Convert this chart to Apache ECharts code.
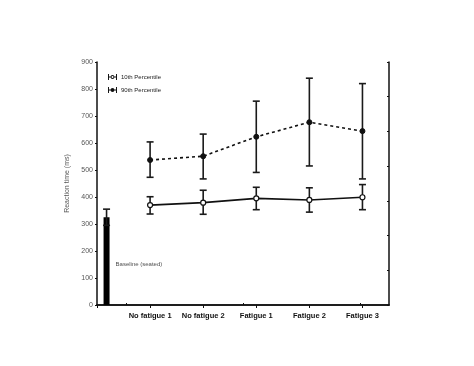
<!DOCTYPE html>
<html><head><meta charset="utf-8">
<script src="https://cdn.jsdelivr.net/npm/echarts@6/dist/echarts.min.js"></script>
<style>html,body{margin:0;padding:0;background:#fff}#c{width:474px;height:366px}</style>
</head><body><div id="c"></div>
<script>
const categories = ['No fatigue 1','No fatigue 2','Fatigue 1','Fatigue 2','Fatigue 3'];
const p90Mean = [537, 551, 623, 677, 644];
const p90Low  = [473, 467, 491, 515, 467];
const p90High = [604, 633, 755, 840, 820];
const p10Mean = [370, 379, 395, 389, 399];
const p10Low  = [337, 336, 353, 344, 353];
const p10High = [401, 425, 436, 434, 446];
const baselineLabel = 'Baseline (seated)';
const baselineMean = 325;
const baselineLow = 295;
const baselineHigh = 355;
const yTicks = [0,100,200,300,400,500,600,700,800,900];

const baseX = 0.18;
const xs = categories.map((c,i)=>i+1);

function errRender(params, api){
  const x = api.value(0), lo = api.value(1), hi = api.value(2);
  const a = api.coord([x, hi]), b = api.coord([x, lo]);
  const w = 3.5;
  const st = {stroke:'#1a1a1a', lineWidth:1.6};
  return {type:'group', children:[
    {type:'line', shape:{x1:a[0],y1:a[1],x2:b[0],y2:b[1]}, style:st},
    {type:'line', shape:{x1:a[0]-w,y1:a[1],x2:a[0]+w,y2:a[1]}, style:st},
    {type:'line', shape:{x1:b[0]-w,y1:b[1],x2:b[0]+w,y2:b[1]}, style:st}
  ]};
}

const iconFilled = 'path://M0,0L1.3,0L1.3,3.4L10.7,3.4L10.7,0L12,0L12,8L10.7,8L10.7,4.6L1.3,4.6L1.3,8L0,8Z M8.6,4A2.6,2.6 0 1 1 3.4,4A2.6,2.6 0 1 1 8.6,4Z';
const iconOpen = 'path://M0,0L1.3,0L1.3,3.4L3.5,3.4L3.5,4.6L1.3,4.6L1.3,8L0,8Z M12,0L10.7,0L10.7,3.4L8.5,3.4L8.5,4.6L10.7,4.6L10.7,8L12,8Z M8.6,4A2.6,2.6 0 1 0 3.4,4A2.6,2.6 0 1 0 8.6,4Z M7.3,4A1.3,1.3 0 1 1 4.7,4A1.3,1.3 0 1 1 7.3,4Z';

const chart = echarts.init(document.getElementById('c'), null, {renderer:'canvas'});
chart.setOption({
  animation:false,
  backgroundColor:'#fff',
  textStyle:{fontFamily:'Arial, Liberation Sans, sans-serif'},
  grid:{left:97, right:85, top:62, bottom:61},
  legend:{
    orient:'vertical', left:103, top:69, itemWidth:9, itemHeight:6, itemGap:7,
    itemStyle:{color:'#111', borderWidth:0},
    lineStyle:{width:0},
    textStyle:{fontSize:6, color:'#222', padding:[0,0,0,-1]},
    data:[
      {name:'10th Percentile', icon:iconOpen, itemStyle:{color:'#111', borderWidth:0}},
      {name:'90th Percentile', icon:iconFilled, itemStyle:{color:'#111', borderWidth:0}}
    ]
  },
  xAxis:[
    {type:'value', min:0, max:5.5, interval:1, position:'bottom',
     axisLine:{lineStyle:{color:'#111', width:1.5}},
     axisTick:{show:true, length:3, lineStyle:{color:'#111'}},
     axisLabel:{fontSize:7.5, fontWeight:'bold', color:'#111', margin:7, showMaxLabel:false,
       formatter:v=> (v>=1 && v<=categories.length && Math.abs(v-Math.round(v))<1e-6) ? categories[Math.round(v)-1] : ''},
     splitLine:{show:false}},
    {type:'category', data:categories, position:'top',
     axisLine:{lineStyle:{color:'#111', width:1.5}},
     axisTick:{show:true, alignWithLabel:true, length:2, lineStyle:{color:'#111'}},
     axisLabel:{show:false}}
  ],
  yAxis:[
    {type:'value', min:0, max:900, interval:100, position:'left',
     name:'Reaction time (ms)', nameLocation:'middle', nameGap:21, nameRotate:90,
     nameTextStyle:{fontSize:7, color:'#555'},
     axisLine:{show:true, lineStyle:{color:'#111', width:1.5}},
     axisTick:{show:true, length:2, lineStyle:{color:'#111'}},
     axisLabel:{fontSize:7, color:'#555', margin:4,
       formatter:v=> yTicks.includes(v) ? String(v) : ''},
     splitLine:{show:false}},
    {type:'value', min:0, max:7, interval:1, position:'right',
     axisLine:{show:true, lineStyle:{color:'#111', width:1.5}},
     axisTick:{show:true, inside:true, length:2, lineStyle:{color:'#111'}},
     axisLabel:{show:false}, splitLine:{show:false}}
  ],
  series:[
    {type:'bar', name:'Baseline', xAxisIndex:0, yAxisIndex:0, barWidth:6,
     itemStyle:{color:'#000'}, data:[[baseX, baselineMean]], z:2},
    {type:'custom', xAxisIndex:0, yAxisIndex:0, renderItem:errRender, encode:{x:0,y:[1,2]},
     data:[[baseX, baselineLow, baselineHigh]], z:3},
    {type:'scatter', xAxisIndex:0, yAxisIndex:0, symbolSize:0, silent:true,
     data:[[baseX, 150]],
     label:{show:true, position:'right', distance:9, formatter:baselineLabel, fontSize:6, color:'#222'}},
    {type:'custom', xAxisIndex:0, yAxisIndex:0, renderItem:errRender, encode:{x:0,y:[1,2]},
     data: xs.map((x,i)=>[x, p90Low[i], p90High[i]]), z:3},
    {type:'custom', xAxisIndex:0, yAxisIndex:0, renderItem:errRender, encode:{x:0,y:[1,2]},
     data: xs.map((x,i)=>[x, p10Low[i], p10High[i]]), z:3},
    {type:'line', name:'90th Percentile', xAxisIndex:0, yAxisIndex:0,
     data: xs.map((x,i)=>[x, p90Mean[i]]),
     symbol:'circle', symbolSize:5, itemStyle:{color:'#111', borderColor:'#111'},
     lineStyle:{color:'#111', width:1.6, type:[3,3]}, z:5},
    {type:'line', name:'10th Percentile', xAxisIndex:0, yAxisIndex:0,
     data: xs.map((x,i)=>[x, p10Mean[i]]),
     symbol:'circle', symbolSize:5, itemStyle:{color:'#fff', borderColor:'#111', borderWidth:1.2},
     lineStyle:{color:'#111', width:1.6}, z:5}
  ]
});
</script></body></html>
